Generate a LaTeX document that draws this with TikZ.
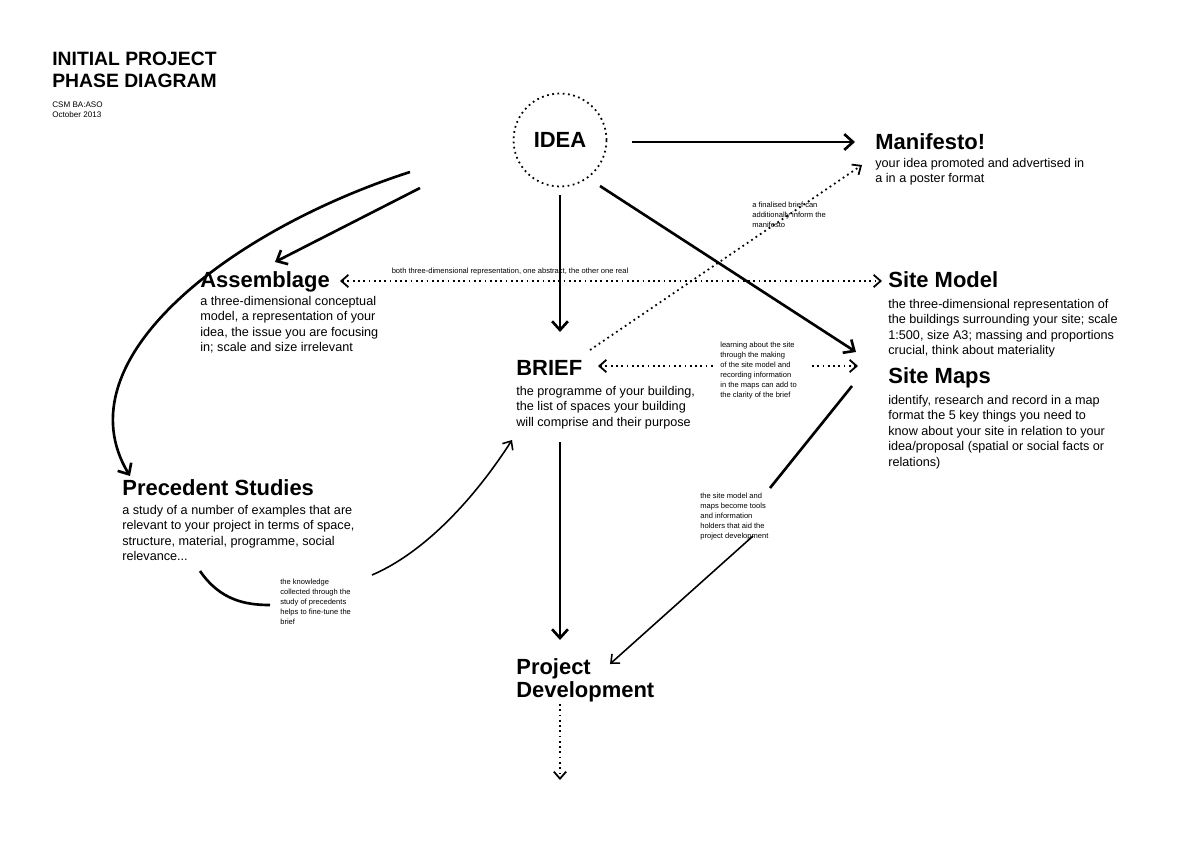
\documentclass[tikz,border=0pt]{standalone}
\usepackage{fontspec}
\setmainfont{Liberation Sans}
\usetikzlibrary{arrows.meta,positioning}
\tikzset{
  flow/.style={line width=1.5pt,-{Straight Barb[length=5pt,width=9pt,line width=1.5pt]}},
  thin flow/.style={line width=0.9pt,-{Straight Barb[length=4pt,width=7pt,line width=0.9pt]}},
  dotflow/.style={line width=1pt,dotted,-{Straight Barb[length=4pt,width=7pt,line width=1pt]}},
  head/.style={anchor=north west,inner sep=0pt,font=\bfseries\fontsize{12.5}{13}\selectfont},
  desc/.style={anchor=north west,inner sep=0pt,align=left,font=\fontsize{7.2}{8.8}\selectfont},
  note/.style={anchor=north west,inner sep=0pt,align=left,font=\fontsize{4.3}{5.7}\selectfont}
}
\begin{document}
\begin{tikzpicture}[x=0.02cm,y=-0.02cm]
  \useasboundingbox (0,0) rectangle (1200,849);

  %% Title
  \node[anchor=north west,inner sep=0pt,align=left,font=\bfseries\fontsize{11}{12.5}\selectfont]
    (title) at (52,52) {INITIAL PROJECT\\PHASE DIAGRAM};
  \node[anchor=north west,inner sep=0pt,align=left,font=\fontsize{4.6}{5.6}\selectfont]
    (sub) at (52,102) {CSM BA:ASO\\October 2013};

  %% Main nodes
  \node[circle,draw,dotted,line width=1pt,inner sep=0pt,
    minimum size=1.86cm,font=\bfseries\fontsize{12.5}{13}\selectfont] (idea) at (560,140) {IDEA};
  \node[head] (manifesto) at (875,133) {Manifesto!};
  \node[desc] (manifestoT) at (875,158) {your idea promoted and advertised in\\a in a poster format};
  \node[head] (assemblage) at (200,271) {Assemblage};
  \node[desc] (assemblageT) at (200,296) {a three-dimensional conceptual\\model, a representation of your\\idea, the issue you are focusing\\in; scale and size irrelevant};
  \node[head] (sitemodel) at (888,271) {Site Model};
  \node[desc] (sitemodelT) at (888,299) {the three-dimensional representation of\\the buildings surrounding your site; scale\\1:500, size A3; massing and proportions\\crucial, think about materiality};
  \node[head] (brief) at (516,360) {BRIEF};
  \node[desc] (briefT) at (516,386) {the programme of your building,\\the list of spaces your building\\will comprise and their purpose};
  \node[head] (sitemaps) at (888,367) {Site Maps};
  \node[desc] (sitemapsT) at (888,395) {identify, research and record in a map\\format the 5 key things you need to\\know about your site in relation to your\\idea/proposal (spatial or social facts or\\relations)};
  \node[head] (precedent) at (122,479) {Precedent Studies};
  \node[desc] (precedentT) at (122,505) {a study of a number of examples that are\\relevant to your project in terms of space,\\structure, material, programme, social\\relevance...};
  \node[head,align=left] (project) at (516,658) {Project\\Development};

  %% Notes
  \node[note] (n1) at (752,202) {a finalised brief can\\additionally inform the\\manifesto};
  \node[note] (n2) at (720,342) {learning about the site\\through the making\\of the site model and\\recording information\\in the maps can add to\\the clarity of the brief};
  \node[note] (n3) at (700,493) {the site model and\\maps become tools\\and information\\holders that aid the\\project development};
  \node[note] (n4) at (280,579) {the knowledge\\collected through the\\study of precedents\\helps to fine-tune the\\brief};
  \node[note,anchor=south] (n5) at (510,275) {both three-dimensional representation, one abstract, the other one real};

  %% Coordinates
  \coordinate (a1) at (632,142);
  \coordinate (a2) at (855,142);
  \coordinate (b1) at (420,188);
  \coordinate (b2) at (275,262);
  \coordinate (c1) at (560,195);
  \coordinate (c2) at (560,332);
  \coordinate (d1) at (600,186);
  \coordinate (d2) at (856,352);
  \coordinate (e1) at (410,172);
  \coordinate (e2) at (130,476);
  \coordinate (f1) at (340,281);
  \coordinate (f2) at (882,281);
  \coordinate (g1) at (598,366);
  \coordinate (g2) at (714,366);
  \coordinate (g3) at (812,366);
  \coordinate (g4) at (858,366);
  \coordinate (h1) at (590,350);
  \coordinate (h2) at (862,165);
  \coordinate (i1) at (560,442);
  \coordinate (i2) at (560,640);
  \coordinate (j1) at (852,386);
  \coordinate (j2) at (770,488);
  \coordinate (j3) at (753,536);
  \coordinate (j4) at (610,664);
  \coordinate (k1) at (200,571);
  \coordinate (k2) at (270,605);
  \coordinate (k3) at (372,575);
  \coordinate (k4) at (512,440);
  \coordinate (l1) at (560,704);
  \coordinate (l2) at (560,780);

  %% Solid connectors
  \draw[flow] (a1) -- (a2);
  \draw[flow] (b1) -- (b2);
  \draw[flow] (c1) -- (c2);
  \draw[flow] (d1) -- (d2);
  \draw[flow] (e1) .. controls (230,230) and (60,360) .. (e2);
  \draw[flow] (i1) -- (i2);
  \draw[line width=1.5pt] (j1) -- (j2);
  \draw[thin flow] (j3) -- (j4);
  \draw[line width=1.5pt] (k1) .. controls (220,600) and (245,605) .. (k2);
  \draw[thin flow] (k3) .. controls (430,550) and (480,490) .. (k4);

  %% Dotted connectors
  \draw[dotflow,{Straight Barb[length=4pt,width=7pt,line width=1pt]}-{Straight Barb[length=4pt,width=7pt,line width=1pt]}] (f1) -- (f2);
  \draw[dotflow,{Straight Barb[length=4pt,width=7pt,line width=1pt]}-] (g1) -- (g2);
  \draw[dotflow] (g3) -- (g4);
  \draw[dotflow] (h1) -- (h2);
  \draw[dotflow,line width=1.6pt] (l1) -- (l2);
\end{tikzpicture}
\end{document}
